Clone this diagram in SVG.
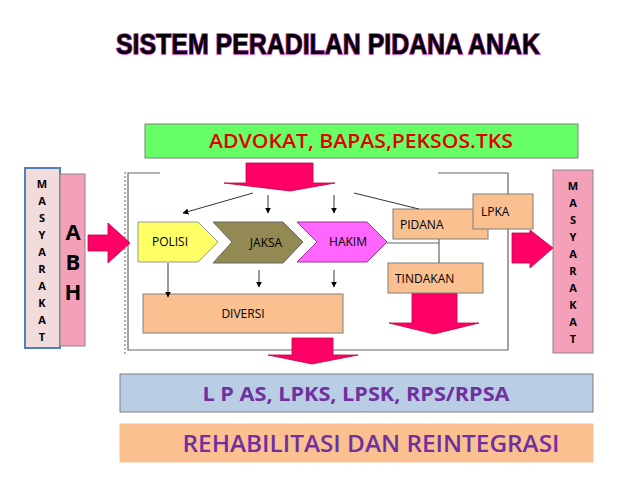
<svg xmlns="http://www.w3.org/2000/svg" width="638" height="478" viewBox="0 0 638 478">
<style>
text{font-family:"Open Sans","Liberation Sans",sans-serif;}
.box{fill:#fac090;stroke:#7f7f7f;stroke-width:1;}
.pk{fill:#ff0066;stroke:#c00040;stroke-width:0.8;}
.ln{stroke:#333;stroke-width:1;fill:none;}
.br{stroke:#666;stroke-width:1.2;fill:none;}
.lbl{font-size:12px;fill:#000;}
.v{font-size:11px;font-weight:bold;fill:#000;text-anchor:middle;}
</style>
<defs>
<marker id="ah" viewBox="0 0 10 10" refX="9" refY="5" markerWidth="6" markerHeight="6" orient="auto"><path d="M0,0 L10,5 L0,10 z" fill="#000"/></marker>
</defs>
<rect width="638" height="478" fill="#fff"/>
<text x="328" y="54" text-anchor="middle" style="font-family:'Liberation Sans',Arial,sans-serif;font-weight:bold" font-size="29" textLength="424" lengthAdjust="spacingAndGlyphs" fill="#000" stroke="#cc33cc" stroke-width="1.6" paint-order="stroke">SISTEM PERADILAN PIDANA ANAK</text>

<g id="advokat"><rect x="145" y="124" width="433" height="34" fill="#66ff66" stroke="#7f7f7f"/><text x="361" y="148" text-anchor="middle" font-size="19" font-weight="600" textLength="304" lengthAdjust="spacingAndGlyphs" fill="#e00000">ADVOKAT, BAPAS,PEKSOS.TKS</text></g>

<g id="masyarakat-left"><rect x="25" y="168" width="35" height="180" fill="#f2dcdb" stroke="#4f81bd" stroke-width="2"/>
<text class="v"><tspan x="42" y="188">M</tspan><tspan x="42" y="205">A</tspan><tspan x="42" y="222">S</tspan><tspan x="42" y="239">Y</tspan><tspan x="42" y="256">A</tspan><tspan x="42" y="273">R</tspan><tspan x="42" y="290">A</tspan><tspan x="42" y="307">K</tspan><tspan x="42" y="324">A</tspan><tspan x="42" y="341">T</tspan></text></g>
<g id="abh"><rect x="60" y="174" width="25" height="172" fill="#f4a0b8" stroke="#888"/>
<text font-size="22" font-weight="bold" text-anchor="middle" fill="#000"><tspan x="73" y="240">A</tspan><tspan x="73" y="270">B</tspan><tspan x="73" y="300">H</tspan></text></g>

<g id="masyarakat-right"><rect x="553" y="170" width="40" height="183" fill="#f4a0b8" stroke="#888"/>
<text class="v"><tspan x="573" y="190">M</tspan><tspan x="573" y="207">A</tspan><tspan x="573" y="224">S</tspan><tspan x="573" y="241">Y</tspan><tspan x="573" y="258">A</tspan><tspan x="573" y="275">R</tspan><tspan x="573" y="292">A</tspan><tspan x="573" y="309">K</tspan><tspan x="573" y="326">A</tspan><tspan x="573" y="343">T</tspan></text></g>

<g id="frame">
<line x1="125" y1="172" x2="125" y2="355" stroke="#666" stroke-dasharray="2,2"/>
<path class="br" d="M160,173 H128 V350 H508 V173 H438"/>
</g>

<g id="big-arrows">
<path class="pk" d="M88,235 H108 V223 L130,243 L108,263 V251 H88 Z"/>
<path class="pk" d="M246,163 H313 V183 H335 L290,191 L224,183 H246 Z"/>
<path class="pk" d="M512,233 H530 V230 L553,248 L530,268 V263 H512 Z"/>
<path class="pk" d="M412,293 H457 V323 H479 L434,334 L389,323 H412 Z"/>
<path class="pk" d="M292,338 H333 V355 H358 L312,364 L268,355 H292 Z"/>
</g>

<g id="polisi"><path d="M138,222 H198 L218,242 L198,262 H138 Z" fill="#ffff66" stroke="#999"/><text class="lbl" x="170" y="246" text-anchor="middle">POLISI</text></g>
<g id="jaksa"><path d="M213,222 H283 L303,242 L283,263 H213 L232,242 Z" fill="#938953" stroke="#666"/><text class="lbl" x="266" y="247" text-anchor="middle">JAKSA</text></g>
<g id="hakim"><path d="M297,222 H367 L387,242 L367,262 H297 L317,242 Z" fill="#ff66ff" stroke="#993399"/><text class="lbl" x="348" y="246" text-anchor="middle">HAKIM</text></g>
<g id="diversi"><rect class="box" x="143" y="294" width="200" height="39"/><text class="lbl" x="243" y="318" text-anchor="middle">DIVERSI</text></g>
<g id="pidana"><rect class="box" x="393" y="209" width="95" height="30"/><text class="lbl" x="400" y="229">PIDANA</text></g>
<g id="lpka"><rect class="box" x="473" y="194" width="60" height="35"/><text class="lbl" x="481" y="216">LPKA</text></g>
<g id="tindakan"><rect class="box" x="388" y="263" width="95" height="30"/><text class="lbl" x="395" y="283">TINDAKAN</text></g>

<g id="connectors">
<line class="ln" x1="253" y1="193" x2="183" y2="213" marker-end="url(#ah)"/>
<line class="ln" x1="268" y1="195" x2="268" y2="213" marker-end="url(#ah)"/>
<line class="ln" x1="334" y1="195" x2="334" y2="213" marker-end="url(#ah)"/>
<line class="ln" x1="354" y1="193" x2="419" y2="209"/>
<line class="ln" x1="168" y1="263" x2="168" y2="297" marker-end="url(#ah)"/>
<line class="ln" x1="259" y1="270" x2="259" y2="287" marker-end="url(#ah)"/>
<line class="ln" x1="334" y1="270" x2="334" y2="287" marker-end="url(#ah)"/>
<path class="br" d="M387,243 H439 M439,239 V263"/>
</g>

<g id="lembaga"><rect x="120" y="374" width="473" height="38" fill="#b9cde5" stroke="#7f7f7f"/><text x="356" y="401" text-anchor="middle" font-size="20" font-weight="bold" textLength="307" lengthAdjust="spacingAndGlyphs" fill="#7030a0">L P AS,  LPKS, LPSK, RPS/RPSA</text></g>
<g id="rehab"><rect x="120" y="424" width="473" height="38" fill="#fac090" stroke="#fac090"/><text x="371" y="452" text-anchor="middle" font-size="23" font-weight="600" textLength="377" lengthAdjust="spacingAndGlyphs" fill="#7030a0">REHABILITASI DAN REINTEGRASI</text></g>
</svg>
